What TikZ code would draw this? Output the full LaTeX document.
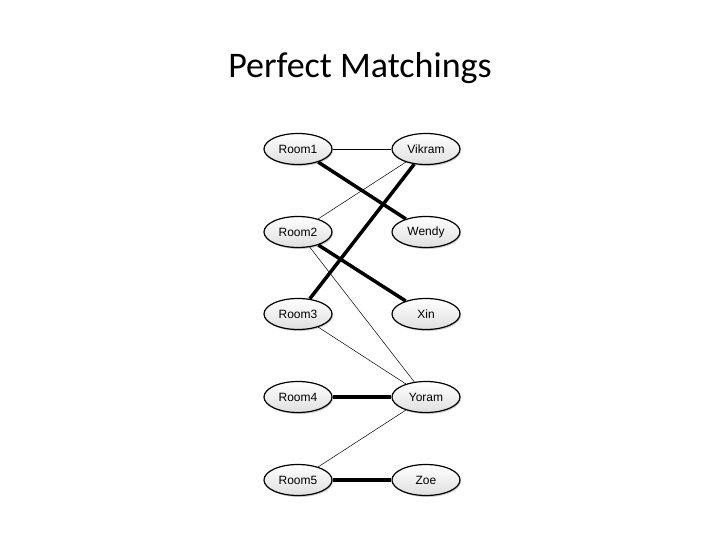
\documentclass[tikz,border=0pt]{standalone}
\usepackage{fontspec}
\setmainfont{Carlito}
\newfontfamily\nodefont{Liberation Sans}
\usetikzlibrary{shapes.geometric,shadows}

\tikzset{
  room/.style={ellipse,draw=black,line width=1.2pt,minimum width=68pt,minimum height=31pt,
    inner sep=1pt,top color=white,bottom color=gray!25,font=\nodefont\fontsize{12}{14}\selectfont,
    drop shadow={shadow xshift=1pt,shadow yshift=-1.5pt,opacity=0.4}},
  weak/.style={line width=0.5pt},
  strong/.style={line width=3.5pt}
}

\begin{document}
\begin{tikzpicture}[x=1pt,y=-1pt]
  \useasboundingbox (0,0) rectangle (720,540);
  \node (title) at (360,68) {\fontsize{36}{40}\selectfont Perfect Matchings};

  % rooms on the left, people on the right
  \foreach \i/\y in {1/149,2/232,3/314,4/397,5/480}
    \node[room] (room\i) at (298,\y) {Room\i};
  \node[room] (vikram) at (426,149) {Vikram};
  \node[room] (wendy)  at (426,232) {Wendy};
  \node[room] (xin)    at (426,314) {Xin};
  \node[room] (yoram)  at (426,397) {Yoram};
  \node[room] (zoe)    at (426,480) {Zoe};

  \begin{scope}[on background layer/.try]
    \draw[weak] (room1) -- (vikram);
    \draw[weak] (room2) -- (vikram);
    \draw[weak] (room2) -- (yoram);
    \draw[weak] (room3) -- (yoram);
    \draw[weak] (room5) -- (yoram);
    \draw[strong] (room1) -- (wendy);
    \draw[strong] (room3) -- (vikram);
    \draw[strong] (room2) -- (xin);
    \draw[strong] (room4) -- (yoram);
    \draw[strong] (room5) -- (zoe);
  \end{scope}
\end{tikzpicture}
\end{document}
